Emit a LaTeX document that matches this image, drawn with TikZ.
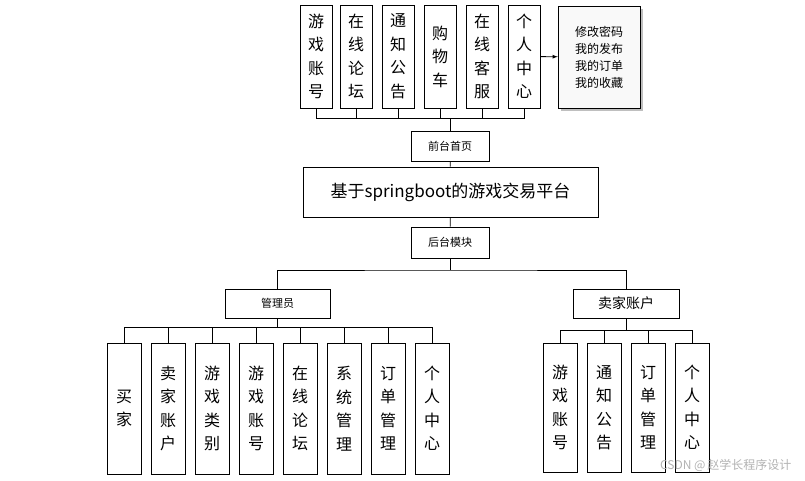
\documentclass[tikz,border=0pt]{standalone}
\usepackage{fontspec}
\setmainfont{Noto Sans CJK SC}
\begin{document}
\begin{tikzpicture}[x=1pt,y=-1pt,
 bx/.style={draw,thick,inner sep=0pt,font=\fontsize{16}{23.5}\selectfont,align=center},
 ln/.style={draw,thick}]
\useasboundingbox (0,0) rectangle (805,480);
% top row
\foreach \n/\x/\t in {t1/316/游\\戏\\账\\号,t2/356/在\\线\\论\\坛,t3/398/通\\知\\公\\告,t4/440/购\\物\\车,t5/482/在\\线\\客\\服,t6/524/个\\人\\中\\心}
  \node[bx,minimum width=32,minimum height=103] (\n) at (\x,56.5) {\t};
\fill[gray!50] (561,9) rectangle (643,111);
\node[draw,fill=gray!5,minimum width=82,minimum height=102,inner sep=0pt,align=left,font=\fontsize{12}{17}\selectfont] (pc) at (599,57) {修改密码\\我的发布\\我的订单\\我的收藏};
\draw[thick,-latex] (t6) -- (pc);
\node[bx,minimum width=78,minimum height=30,font=\fontsize{11}{13}\selectfont] (qt) at (450,146) {前台首页};
\node[bx,minimum width=295,minimum height=50,font=\fontsize{17}{20}\selectfont] (main) at (450.5,192) {基于springboot的游戏交易平台};
\node[bx,minimum width=78,minimum height=31,font=\fontsize{11}{13}\selectfont] (ht) at (450,242.5) {后台模块};
\coordinate (tb) at (450,118);
\foreach \n in {t1,t2,t3,t4,t5,t6} \draw[ln] (\n.south) |- (tb);
\draw[ln] (t1.south|-tb) -- (t6.south|-tb);
\draw[ln] (tb) -- (qt.north);
\draw[ln] (qt) -- (main);
\draw[ln] (main) -- (ht);
\node[bx,minimum width=105,minimum height=29,font=\fontsize{11}{13}\selectfont] (gl) at (277.5,303.5) {管理员};
\node[bx,minimum width=106,minimum height=29,font=\fontsize{14}{16}\selectfont] (mj) at (626,303.5) {卖家账户};
\coordinate (hb) at (450,270);
\draw[ln] (ht.south) -- (hb);
\draw[ln] (gl.north) |- (hb) -| (mj.north);
% admin
\foreach \n/\x/\t in {a1/124/买\\家,a2/168/卖\\家\\账\\户,a3/212/游\\戏\\类\\别,a4/256/游\\戏\\账\\号,a5/300/在\\线\\论\\坛,a6/344/系\\统\\管\\理,a7/388/订\\单\\管\\理,a8/432/个\\人\\中\\心}
  {\node[bx,minimum width=34,minimum height=131] (\n) at (\x,408.5) {\t};
   \draw[ln] (\n.north) -- (\x,327);}
\draw[ln] (124,327) -- (432,327);
\draw[ln] (gl.south) -- (277.5,327);
% seller
\foreach \n/\x/\t in {s1/560/游\\戏\\账\\号,s2/604/通\\知\\公\\告,s3/648/订\\单\\管\\理,s4/692/个\\人\\中\\心}
  {\node[bx,minimum width=34,minimum height=129] (\n) at (\x,407.5) {\t};
   \draw[ln] (\n.north) -- (\x,330);}
\draw[ln] (560,330) -- (692,330);
\draw[ln] (mj.south) -- (626,330);
\node[text=gray!60,font=\fontsize{12}{14}\selectfont,anchor=east] (wm) at (795,465) {CSDN @\,赵学长程序设计};
\end{tikzpicture}
\end{document}
